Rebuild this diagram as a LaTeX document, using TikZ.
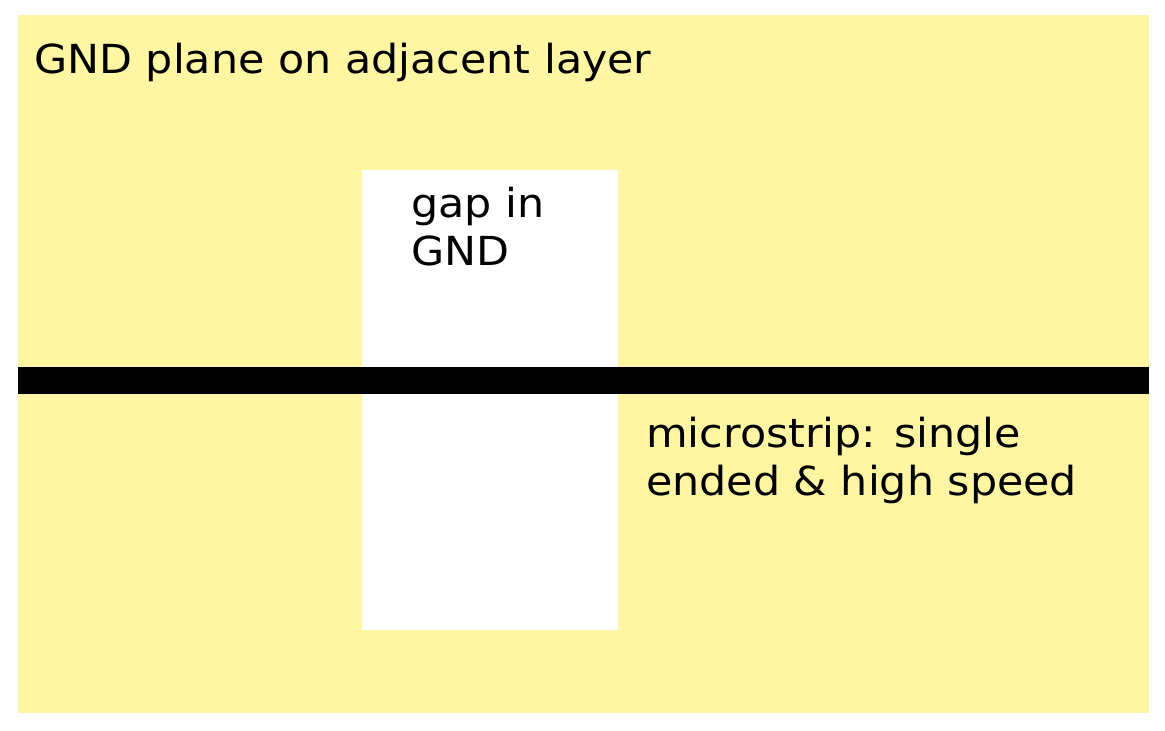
\documentclass[tikz,border=0pt]{standalone}
\usepackage{fontspec}
\setmainfont{DejaVu Sans}[FakeStretch=1.07]
\definecolor{plane}{HTML}{FFF6A3}
\begin{document}
\begin{tikzpicture}[x=1pt,y=-1pt,
  lbl/.style={anchor=base west,inner sep=0pt,align=left,font=\fontsize{40}{48}\selectfont}]
\useasboundingbox (0,0) rectangle (1165,731);
\fill[white] (0,0) rectangle (1165,731);
\fill[plane] (18,15) rectangle (1149,713);
\fill[white] (362,170) rectangle (618,630);
\fill[black] (18,367) rectangle (1149,394);
\node[lbl] (gndlabel) at (34,73) {GND plane on adjacent layer};
\node[lbl] (gaplabel) at (411,265) {gap in\\GND};
\node[lbl] (striplabel) at (646,495) {microstrip: single\\ended \& high speed};
\end{tikzpicture}
\end{document}
